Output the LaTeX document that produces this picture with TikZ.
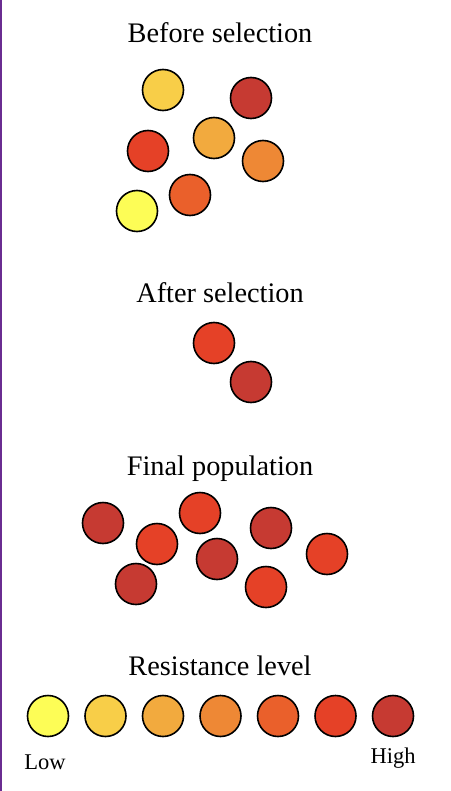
\documentclass[tikz,border=0pt]{standalone}
\usepackage{fontspec}
\setmainfont{Liberation Serif}
\usepackage{tikz}
\usetikzlibrary{positioning}
\definecolor{nivel1}{HTML}{FDFD56}
\definecolor{nivel2}{HTML}{F8CE48}
\definecolor{nivel3}{HTML}{F2AA3E}
\definecolor{nivel4}{HTML}{EE8835}
\definecolor{nivel5}{HTML}{EA602B}
\definecolor{nivel6}{HTML}{E54127}
\definecolor{nivel7}{HTML}{C63A32}
\definecolor{Morado}{HTML}{6A2C91}
\tikzset{
  celula/.style  = {draw=black, circle, line width=1.6pt, minimum size=41pt,
                    inner sep=0pt},
  titulo/.style  = {font=\fontsize{28.3}{32}\selectfont, anchor=base,
                    inner sep=0pt},
  extremo/.style = {font=\fontsize{22.5}{26}\selectfont, anchor=base,
                    inner sep=0pt},
}

\begin{document}
\begin{tikzpicture}[x=1pt,y=-1pt]
  \useasboundingbox[fill=white] (0,0) rectangle (450,791);
  \draw[Morado, line width=2pt] (1,0) -- (1,791);

  % antes de la seleccion
  \node[titulo] (tantes) at (220,43) {Before selection};
  \node[celula, fill=nivel2] (a1) at (163,90)  {};
  \node[celula, fill=nivel7] (a2) at (251,98)  {};
  \node[celula, fill=nivel6] (a3) at (148,151) {};
  \node[celula, fill=nivel3] (a4) at (214,138) {};
  \node[celula, fill=nivel4] (a5) at (263,161) {};
  \node[celula, fill=nivel5] (a6) at (190,195) {};
  \node[celula, fill=nivel1] (a7) at (137,211) {};

  % despues de la seleccion
  \node[titulo] (tdespues) at (220,302) {After selection};
  \node[celula, fill=nivel6] (d1) at (214,343) {};
  \node[celula, fill=nivel7] (d2) at (251,382) {};

  % poblacion final
  \node[titulo] (tfinal) at (220,475) {Final population};
  \node[celula, fill=nivel7] (f1) at (103,523) {};
  \node[celula, fill=nivel6] (f2) at (157,544) {};
  \node[celula, fill=nivel6] (f3) at (200,513) {};
  \node[celula, fill=nivel7] (f4) at (271,528) {};
  \node[celula, fill=nivel6] (f5) at (327,554) {};
  \node[celula, fill=nivel7] (f6) at (217,559) {};
  \node[celula, fill=nivel7] (f7) at (136,584) {};
  \node[celula, fill=nivel6] (f8) at (266,587) {};

  % leyenda
  \node[titulo] (tnivel) at (220,675) {Resistance level};
  \foreach \i in {1,...,7}
    \node[celula, fill=nivel\i] (n\i) at ({48+57.5*(\i-1)},716) {};
  \node[extremo] (bajo) at (45,769) {Low};
  \node[extremo] (alto) at (393,763) {High};
\end{tikzpicture}
\end{document}
